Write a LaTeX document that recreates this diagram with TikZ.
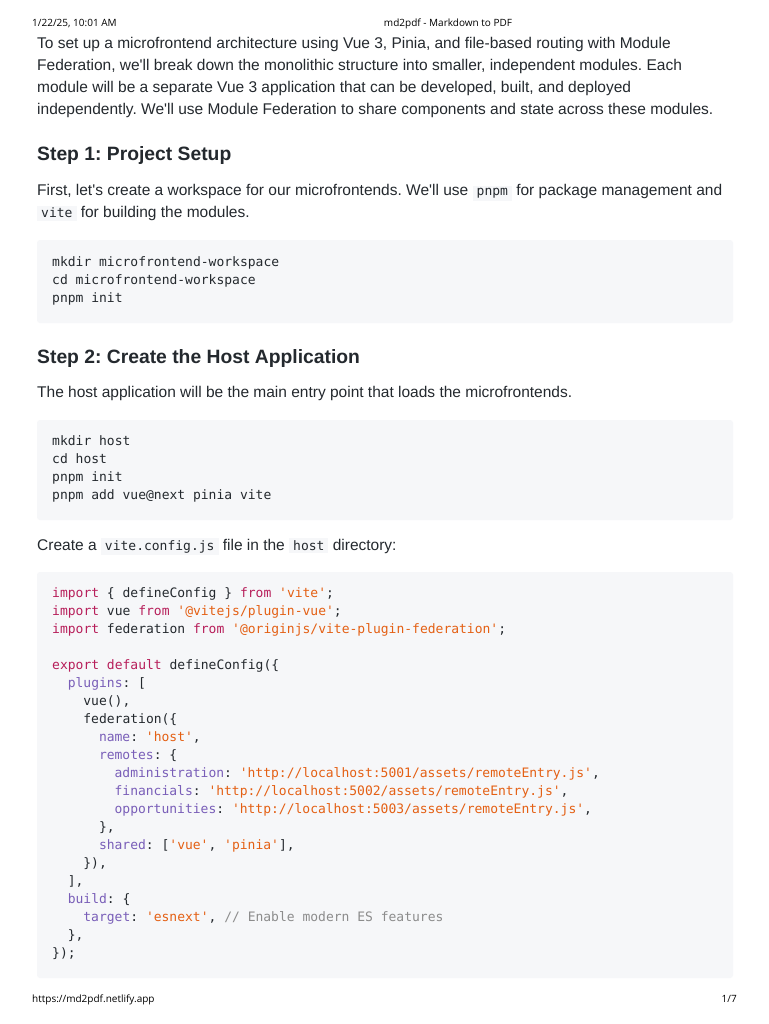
\documentclass[tikz,border=0pt]{standalone}
\usepackage{fontspec}
\setmainfont{Liberation Sans}[Ligatures=TeXOff]
\setmonofont{DejaVu Sans Mono}
\newfontfamily\hdrfont{Open Sans}
\frenchspacing
\definecolor{codebg}{RGB}{246,247,249}
\definecolor{txt}{RGB}{36,41,46}
\definecolor{kwc}{RGB}{183,30,90}
\definecolor{stc}{RGB}{228,96,20}
\definecolor{prc}{RGB}{121,94,184}
\definecolor{cmc}{RGB}{140,140,140}
\newcommand\ckw[1]{\textcolor{kwc}{#1}}
\newcommand\cst[1]{\textcolor{stc}{#1}}
\newcommand\cpr[1]{\textcolor{prc}{#1}}
\newcommand\ccm[1]{\textcolor{cmc}{#1}}
\newcommand\ic[1]{{\setlength\fboxsep{2.5pt}\colorbox{codebg}{\hspace{1.5pt}\fontsize{13}{15}\ttfamily #1\hspace{1.5pt}}}}
\begin{document}
\begin{tikzpicture}[x=1pt,y=1pt,
  body/.style={anchor=base west,inner sep=0pt,font=\fontsize{15.5}{18}\selectfont,text=txt},
  head/.style={anchor=base west,inner sep=0pt,font=\fontsize{19.3}{22}\selectfont\bfseries,text=txt},
  code/.style={anchor=base west,inner sep=0pt,font=\fontsize{13}{15}\ttfamily,text=txt},
  hdr/.style={inner sep=0pt,font=\fontsize{10}{12}\hdrfont,text=black},
  box/.style={fill=codebg,rounded corners=3pt,draw=none}]
\useasboundingbox (0,0) rectangle (768,-1024);
\fill[white] (0,0) rectangle (768,-1024);
% header/footer
\node[hdr,anchor=base west] (h1) at (32,-27) {1/22/25, 10:01 AM};
\node[hdr,anchor=base] (h2) at (448,-27) {md2pdf - Markdown to PDF};
\node[hdr,anchor=base west] (f1) at (32,-1002) {https://md2pdf.netlify.app};
\node[hdr,anchor=base east] (f2) at (737,-1002) {1/7};
% intro
\node[body] (p1) at (37,-49) {To set up a microfrontend architecture using Vue 3, Pinia, and file-based routing with Module};
\node[body] (p2) at (37,-71) {Federation, we'll break down the monolithic structure into smaller, independent modules. Each};
\node[body] (p3) at (37,-93) {module will be a separate Vue 3 application that can be developed, built, and deployed};
\node[body] (p4) at (37,-115) {independently. We'll use Module Federation to share components and state across these modules.};
\node[head] (s1) at (37,-161) {Step 1: Project Setup};
\node[body] (p5) at (37,-196) {First, let's create a workspace for our microfrontends. We'll use \ic{pnpm} for package management and};
\node[body] (p6) at (37,-218) {\ic{vite} for building the modules.};
\fill[box] (37,-240) rectangle (733,-323);
\node[code] (c1) at (52,-266) {mkdir microfrontend-workspace};
\node[code] (c2) at (52,-284) {cd microfrontend-workspace};
\node[code] (c3) at (52,-302) {pnpm init};
\node[head] (s2) at (37,-363) {Step 2: Create the Host Application};
\node[body] (p7) at (37,-397) {The host application will be the main entry point that loads the microfrontends.};
\fill[box] (37,-420) rectangle (733,-520);
\node[code] (d1) at (52,-445) {mkdir host};
\node[code] (d2) at (52,-463) {cd host};
\node[code] (d3) at (52,-481) {pnpm init};
\node[code] (d4) at (52,-499) {pnpm add vue@next pinia vite};
\node[body] (p8) at (37,-550) {Create a \ic{vite.config.js} file in the \ic{host} directory:};
\fill[box] (37,-572) rectangle (733,-978);
\node[code] (e1) at (52,-597) {\ckw{import} \{ defineConfig \} \ckw{from} \cst{'vite'};};
\node[code] (e2) at (52,-615) {\ckw{import} vue \ckw{from} \cst{'@vitejs/plugin-vue'};};
\node[code] (e3) at (52,-633) {\ckw{import} federation \ckw{from} \cst{'@originjs/vite-plugin-federation'};};
\node[code] (e5) at (52,-669) {\ckw{export} \ckw{default} defineConfig(\{};
\node[code] (e6) at (67.6,-687) {\cpr{plugins}: [};
\node[code] (e7) at (83.2,-705) {vue(),};
\node[code] (e8) at (83.2,-723) {federation(\{};
\node[code] (e9) at (98.8,-741) {\cpr{name}: \cst{'host'},};
\node[code] (e10) at (98.8,-759) {\cpr{remotes}: \{};
\node[code] (e11) at (114.4,-777) {\cpr{administration}: \cst{'http://localhost:5001/assets/remoteEntry.js'},};
\node[code] (e12) at (114.4,-795) {\cpr{financials}: \cst{'http://localhost:5002/assets/remoteEntry.js'},};
\node[code] (e13) at (114.4,-813) {\cpr{opportunities}: \cst{'http://localhost:5003/assets/remoteEntry.js'},};
\node[code] (e14) at (98.8,-831) {\},};
\node[code] (e15) at (98.8,-849) {\cpr{shared}: [\cst{'vue'}, \cst{'pinia'}],};
\node[code] (e16) at (83.2,-867) {\}),};
\node[code] (e17) at (67.6,-885) {],};
\node[code] (e18) at (67.6,-903) {\cpr{build}: \{};
\node[code] (e19) at (83.2,-921) {\cpr{target}: \cst{'esnext'}, \ccm{// Enable modern ES features}};
\node[code] (e20) at (67.6,-939) {\},};
\node[code] (e21) at (52,-957) {\});};
\end{tikzpicture}
\end{document}
